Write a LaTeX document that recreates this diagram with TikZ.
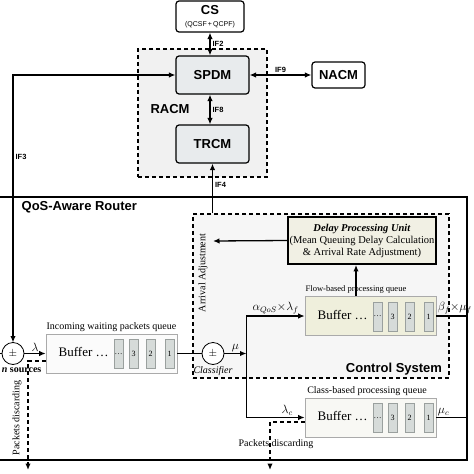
\documentclass[tikz,border=0pt]{standalone}
\usepackage{fontspec}
\setmainfont{Liberation Serif}
\setsansfont{Liberation Sans}
\usetikzlibrary{arrows.meta,calc}
\definecolor{racmfill}{HTML}{F1F1F1}
\definecolor{modfill}{HTML}{E8EBED}
\definecolor{ctrlfill}{HTML}{F6F6F6}
\definecolor{dpufill}{HTML}{F1F0E4}
\definecolor{flowfill}{HTML}{EFEFDC}
\definecolor{inqfill}{HTML}{FBFBFB}
\definecolor{cqfill}{HTML}{F8F8F4}
\definecolor{cellfill}{HTML}{D6DBD9}
\definecolor{cellline}{HTML}{9AA09E}
\definecolor{bufline}{HTML}{AAAAAA}
\newcommand{\bufcells}[1]{%
  \foreach \lab/\dx/\nm in {{\ldots}/73/d,3/88/c,2/105/b,1/124/a}
    \node[cellbox] (#1-\nm) at ($(#1.west)+(\dx,0.5)$) {\lab};}
\begin{document}
\begin{tikzpicture}[x=1pt,y=-1pt,line width=1.3pt,
  >={Latex[length=6.5pt,width=5.5pt]},
  modbox/.style={draw=black,line width=1.2pt,rounded corners=3pt,fill=modfill,
    font=\sffamily\bfseries\fontsize{13}{15}\selectfont,inner sep=0pt},
  iflbl/.style={font=\sffamily\bfseries\fontsize{7.5}{8}\selectfont,inner sep=2pt},
  dashbox/.style={draw=black,line width=1.4pt,dash pattern=on 4pt off 3pt,inner sep=0pt},
  dsh/.style={line width=1.4pt,dash pattern=on 4pt off 3pt},
  buf/.style={draw=bufline,line width=0.6pt,minimum width=131,minimum height=39,inner sep=0pt},
  buftext/.style={font=\fontsize{13}{15}\selectfont,inner sep=0pt},
  cellbox/.style={draw=cellline,fill=cellfill,line width=0.5pt,minimum width=9,minimum height=29,
    inner sep=0pt,font=\fontsize{8}{9}\selectfont},
  qlbl/.style={font=\fontsize{10}{12}\selectfont,inner sep=0pt},
  sumc/.style={circle,draw=black,line width=0.8pt,fill=white,minimum size=22,inner sep=0pt,
    font=\fontsize{11}{12}\selectfont},
  mlbl/.style={font=\fontsize{12}{13}\selectfont,inner sep=1.5pt},
  bigsans/.style={font=\sffamily\bfseries\fontsize{13}{15}\selectfont,inner sep=0pt}
]
\useasboundingbox (0,0) rectangle (474,474);

% ---------- RACM ----------
\node[dashbox,fill=racmfill,minimum width=129,minimum height=128] (racmbox) at (202.5,113) {};
\node[bigsans] (racmlbl) at (170,109) {RACM};
\node[modbox,fill=white,minimum width=68,minimum height=31,align=center] (cs) at (210,16.5)
  {CS\\[-3pt]{\mdseries\fontsize{7}{8}\selectfont (QCSF\,+\,QCPF)}};
\node[modbox,minimum width=73,minimum height=38] (spdm) at (212.5,75) {SPDM};
\node[modbox,minimum width=73,minimum height=38] (trcm) at (212.5,144) {TRCM};
\node[modbox,fill=white,minimum width=53,minimum height=26] (nacm) at (338.5,75) {NACM};

\draw[<->] (cs.south) -- (cs.south |- spdm.north) node[midway,right,iflbl] (if2) {IF2};
\draw[<->] (cs.south |- spdm.south) -- (cs.south |- trcm.north) node[midway,right,iflbl] (if8) {IF8};
\draw[<->] (spdm.east) -- (nacm.west) node[midway,above,iflbl] (if9) {IF9};

% ---------- Router ----------
\draw[line width=2.2pt] (0,197) -- (467,197) -- (467,460) -- (0,460);
\node[bigsans,anchor=west] (rtitle) at (21,207.5) {QoS-Aware Router};

% ---------- Control system ----------
\node[dashbox,fill=ctrlfill,minimum width=256,minimum height=164] (ctrl) at (321,296) {};
\node[bigsans] (ctrllbl) at (394,369) {Control System};

\draw[->] (trcm.south |- ctrl.north) -- (trcm.south) node[pos=0.57,right,iflbl] (if4) {IF4};
\draw[<->] (spdm.west) -| (13,342.5) node[pos=0.654,right,iflbl] (if3) {IF3};

\node[draw=black,line width=1.9pt,fill=dpufill,minimum width=148,minimum height=47,align=center,
  inner sep=0pt,font=\fontsize{10.5}{12}\selectfont] (dpu) at (362,240.5)
  {\textbf{\textit{Delay Processing Unit}}\\(Mean Queuing Delay Calculation\\\& Arrival Rate Adjustment)};
\coordinate (aa) at (213,241);
\draw[->] (dpu.west) -- (aa);
\node[qlbl,rotate=90] (aatxt) at (203,273) {Arrival Adjustment};

% ---------- Flow-based queue ----------
\node[buf,fill=flowfill] (fq) at (370.5,316) {};
\node[buftext] (fqtxt) at ($(fq.west)+(38,-1)$) {Buffer \ldots};
\bufcells{fq}
\node[font=\fontsize{8.5}{10}\selectfont,inner sep=0pt] (fqlbl) at (356,289) {Flow-based processing queue};
\coordinate (fqtop) at (356,296);
\draw[->] (fqtop) -- (fqtop |- dpu.south);
\coordinate (rf) at (467,316);
\draw (fq.east) -- (rf) node[at start,anchor=south west,mlbl,inner sep=1pt] (bf) {$\beta_f{\times}\mu_f$};

% ---------- Incoming queue ----------
\node[sumc] (sum1) at (13,353.5) {$\pm$};
\coordinate (src) at (0,353.5);
\draw (src) -- (sum1.west);
\node[buf,fill=inqfill] (inq) at (111.5,353.5) {};
\node[buftext] (inqtxt) at ($(inq.west)+(38,-1)$) {Buffer \ldots};
\bufcells{inq}
\node[qlbl] (inqlbl) at (111.5,327) {Incoming waiting packets queue};
\draw[->] (sum1) -- (inq.west) node[midway,above,mlbl] (lam) {$\lambda$};
\node[anchor=east,inner sep=0pt,font=\bfseries\fontsize{10}{12}\selectfont] (srclbl) at (42,370) {\textit{n} sources};

% ---------- Classifier ----------
\node[sumc] (cls) at (213,353.5) {$\pm$};
\node[qlbl] (clstxt) at (213,371) {\textit{Classifier}};
\draw (inq.east) -- (cls.west);
\coordinate (split) at (246.5,353.5);
\draw[->] (cls) -- (split) node[midway,above,mlbl] (mu) {$\mu$};
\draw[->] (split) |- (fq.west) node[pos=0.75,above,mlbl] (alf) {$\alpha_{QoS}{\times}\lambda_f$};

% ---------- Class-based queue ----------
\node[buf,fill=cqfill] (cq) at (370.5,417.5) {};
\node[buftext] (cqtxt) at ($(cq.west)+(38,-1)$) {Buffer \ldots};
\bufcells{cq}
\node[qlbl] (cqlbl) at (367,391) {Class-based processing queue};
\draw[->] (split) |- (cq.west) node[pos=0.85,above,mlbl] (lc) {$\lambda_c$};
\coordinate (rc) at (467,417.5);
\draw (cq.east) -- (rc) node[at start,anchor=south west,mlbl,inner sep=1pt] (mc) {$\mu_c$};

% ---------- Packets discarding ----------
\coordinate (d1) at (28,470);
\draw[dsh,->] ([yshift=-7.5pt]inq.west) -| (d1);
\node[qlbl,rotate=90] (pd1) at (17,418) {Packets discarding};
\coordinate (d2) at (270,470);
\draw[dsh,->] ([yshift=-4.5pt]cq.west) -| (d2);
\node[qlbl] (pd2) at (276,444) {Packets discarding};
\end{tikzpicture}
\end{document}
